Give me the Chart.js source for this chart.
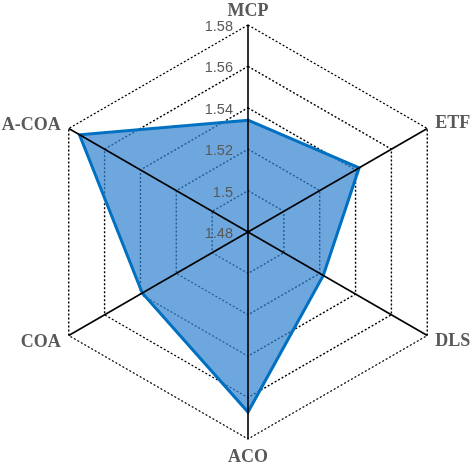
<!DOCTYPE html>
<html>
<head>
<meta charset="utf-8">
<title>Radar</title>
<script src="https://cdn.jsdelivr.net/npm/chart.js@4.4.1/dist/chart.umd.min.js"></script>
<style>
  html, body { margin: 0; padding: 0; background: #fff; }
  #wrap { width: 474px; height: 467px; }
</style>
</head>
<body>
<div id="wrap"><canvas id="radarChart" width="474" height="467"></canvas></div>
<script>
// categories, clockwise from the top
const categories = ['MCP', 'ETF', 'DLS', 'ACO', 'COA', 'A-COA'];
const values = [1.534, 1.542, 1.522, 1.567, 1.539, 1.574];
const tickValues = [1.48, 1.50, 1.52, 1.54, 1.56, 1.58];
const tickLabels = ['1.48', '1.5', '1.52', '1.54', '1.56', '1.58'];

const labelColor = '#595959';

// Angle lines go on top of the fill, like the original, so draw them after datasets.
// Point labels and tick labels are drawn here too so they can sit where the original has them.
const overlayPlugin = {
    id: 'overlay',
    afterDatasetsDraw(chart) {
        const scale = chart.scales.r;
        const ctx = chart.ctx;
        const max = tickValues[tickValues.length - 1];

        ctx.save();
        ctx.strokeStyle = '#000';
        ctx.lineWidth = 1.6;
        categories.forEach(function(c, i) {
            const p = scale.getPointPositionForValue(i, max);
            ctx.beginPath();
            ctx.moveTo(scale.xCenter, scale.yCenter);
            ctx.lineTo(p.x, p.y);
            ctx.stroke();
        });

        // tick labels, to the left of the vertical axis
        ctx.fillStyle = labelColor;
        ctx.font = '14.5px "Liberation Sans", Arial, sans-serif';
        ctx.textAlign = 'right';
        ctx.textBaseline = 'middle';
        tickValues.forEach(function(v, i) {
            const d = scale.getDistanceFromCenterForValue(v);
            ctx.fillText(tickLabels[i], scale.xCenter - 15, scale.yCenter - d + 2);
        });

        // category labels
        ctx.font = 'bold 18px "Liberation Serif", "Times New Roman", serif';
        categories.forEach(function(c, i) {
            const p = scale.getPointPositionForValue(i, max);
            let x = p.x, y = p.y;
            if (i === 0) { ctx.textAlign = 'center'; y -= 14; }
            else if (i === 3) { ctx.textAlign = 'center'; y += 18; }
            else if (i < 3) { ctx.textAlign = 'left'; x += 8; y += (i === 1 ? -5 : 6); }
            else { ctx.textAlign = 'right'; x -= 8; y += (i === 5 ? -3 : 7); }
            ctx.fillText(c, x, y);
        });
        ctx.restore();
    }
};

new Chart(document.getElementById('radarChart').getContext('2d'), {
    type: 'radar',
    data: {
        labels: categories,
        datasets: [{
            label: 'Value',
            data: values,
            fill: true,
            backgroundColor: 'rgba(48, 128, 208, 0.7)',
            borderColor: 'rgb(0, 112, 192)',
            borderWidth: 3,
            pointRadius: 0,
            pointHoverRadius: 0
        }]
    },
    options: {
        responsive: false,
        animation: false,
        layout: {
            padding: { left: 41, right: 19, top: 25, bottom: 28 }
        },
        plugins: {
            legend: { display: false },
            tooltip: { enabled: false }
        },
        scales: {
            r: {
                min: 1.48,
                max: 1.58,
                ticks: { stepSize: 0.02, display: false },
                grid: { color: '#000', lineWidth: 1.4 },
                border: { dash: [2, 2] },
                angleLines: { display: false },
                pointLabels: { display: false }
            }
        }
    },
    plugins: [overlayPlugin]
});
</script>
</body>
</html>
